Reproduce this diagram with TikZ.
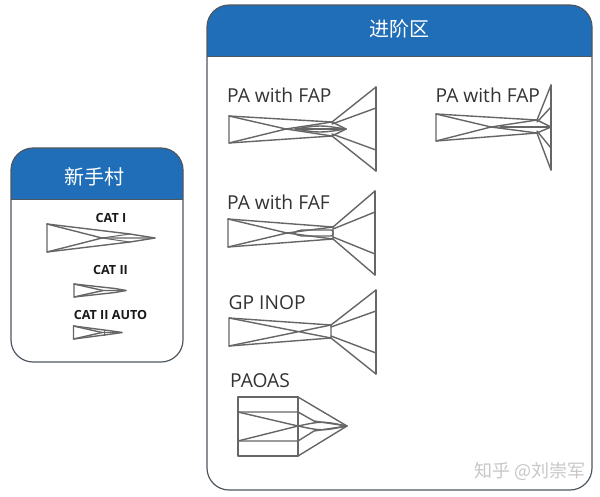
\documentclass[tikz,border=0pt]{standalone}
\usepackage{fontspec}
\setmainfont{Open Sans}
\newfontfamily\cjk{Noto Sans CJK SC}
\definecolor{hdr}{HTML}{1F6EB7}
\definecolor{edge}{HTML}{4F5760}
\definecolor{ln}{HTML}{666666}
\tikzset{
  panel/.style={draw=edge,line width=1.2pt},
  ils/.style={draw=ln,line width=1.4pt,line join=round,line cap=round},
  ilsthin/.style={draw=ln,line width=1pt},
  hdrtext/.style={text=white,font=\cjk\fontsize{20}{22}\selectfont,inner sep=0pt},
  lbl/.style={text=black!80,font=\fontsize{19.2}{21}\selectfont,inner sep=0pt,anchor=base west},
  cat/.style={text=black!90,font=\bfseries\fontsize{12.6}{14}\selectfont,inner sep=0pt,anchor=base}
}
\newcommand{\lens}[5]{% x1 xb xt y h
  \draw[ils] (#1,#4) .. controls (#2,#4-#5) and (#2,#4-#5) .. (#3,#4) .. controls (#2,#4+#5) and (#2,#4+#5) .. cycle;
}
\newcommand{\wing}[8]{% bx yu yl xr y1 y2 y3 y4
  \draw[ils] (#4,#5) -- (#4,#8);
  \draw[ils] (#1,#2) -- (#4,#5);
  \draw[ils] (#1,#2+2) -- (#4,#6);
  \draw[ils] (#1,#3-2) -- (#4,#7);
  \draw[ils] (#1,#3) -- (#4,#8);
}
\begin{document}
\begin{tikzpicture}[x=1pt,y=-1pt]
\useasboundingbox (0,0) rectangle (600,496);
\fill[white] (0,0) rectangle (600,496);
% left panel
\begin{scope}
\clip (0,140) rectangle (200,199);
\fill[hdr,rounded corners=22pt] (11,148) rectangle (183,362);
\end{scope}
\draw[panel,rounded corners=22pt] (11,148) rectangle (183,362);
\draw[edge,line width=0.6pt] (11,199) -- (183,199);
\node[hdrtext] (h1) at (94,176.5) {新手村};
% right panel
\begin{scope}
\clip (200,0) rectangle (600,56);
\fill[hdr,rounded corners=22pt] (207,5) rectangle (592,490);
\end{scope}
\draw[panel,rounded corners=22pt] (207,5) rectangle (592,490);
\draw[edge,line width=0.6pt] (207,56) -- (592,56);
\node[hdrtext] (h2) at (399,29) {进阶区};
% labels
\node[cat] (c1) at (111,222) {CAT I};
\node[cat] (c2) at (110.5,274) {CAT II};
\node[cat] (c3) at (110.5,319.5) {CAT II AUTO};
\node[lbl] (p1) at (227,102) {PA with FAP};
\node[lbl] (p2) at (435.5,102) {PA with FAP};
\node[lbl] (p3) at (227,209) {PA with FAF};
\node[lbl] (p4) at (228.5,309) {GP INOP};
\node[lbl] (p5) at (230,387) {PAOAS};
\node[text=black!22,font=\cjk\fontsize{18}{20}\selectfont,inner sep=0pt,anchor=base east] (wm) at (586,477) {知乎 @刘崇军};
% CAT I
\draw[ils] (47,224) -- (47,252) -- (102,238);
\draw[ils] (47,224) -- (102,238) -- (155,238);
\draw[ils] (47,224) -- (130,234) -- (155,238) -- (130,242) -- (47,252);
\draw[ilsthin] (102,238) -- (130,234);
\draw[ilsthin] (102,238) -- (130,242);
% CAT II
\draw[ils] (74,284) -- (74,297) -- (103,290.5) -- (126,290.5);
\draw[ils] (74,284) -- (103,290.5);
\draw[ils] (74,284) -- (115,288.5) -- (126,290.5) -- (115,292.5) -- (74,297);
% CAT II AUTO
\draw[ils] (73.5,326) -- (73.5,339) -- (102,332.5) -- (122,332.5);
\draw[ils] (73.5,326) -- (102,332.5);
\draw[ils] (73.5,326) -- (112,331) -- (122,332.5) -- (112,334) -- (73.5,339);
\draw[ilsthin] (104,329.5) -- (104,336);
% PA with FAP 1
\draw[ils] (229,116) -- (229,143) -- (286,129);
\draw[ils] (229,116) -- (286,129);
\draw[ils] (229,116) -- (332,122) -- (346,129) -- (332,136) -- (229,143);
\draw[ils] (286,129) -- (332,122);
\draw[ils] (286,129) -- (332,136);
\draw[ils] (295,129) -- (346,129);
\lens{295}{320}{346}{129}{4}
\wing{332}{122}{136}{376}{87}{108}{150}{171}
% PA with FAP 2
\draw[ils] (436,114) -- (436,141) -- (491,127);
\draw[ils] (436,114) -- (491,127);
\draw[ils] (436,114) -- (537,120) -- (551,127) -- (537,133) -- (436,141);
\draw[ils] (491,127) -- (537,120);
\draw[ils] (491,127) -- (537,133);
\draw[ils] (500,127) -- (551,127);
\wing{537}{120}{133}{551}{85}{107}{148}{170}
% PA with FAF
\draw[ils] (228,219) -- (228,247) -- (287,233) -- (293,233);
\draw[ils] (228,219) -- (287,233);
\draw[ils] (228,219) -- (333,227) -- (333,239) -- (228,247);
\draw[ils] (287,233) -- (333,227);
\draw[ils] (287,233) -- (333,239);
\draw[ils,rounded corners=2pt] (293,233) -- (300,230) -- (333,230) -- (333,236) -- (300,236) -- cycle;
\wing{333}{227}{239}{375}{191}{212}{254}{275}
% GP INOP
\draw[ils] (229,318) -- (229,346) -- (331,325) -- (331,338) -- (229,318);
\draw[ils] (229,318) -- (331,325);
\draw[ils] (229,346) -- (331,338);
\wing{331}{325}{338}{376}{290}{311}{353}{374}
% PAOAS
\draw[ils] (238,397) rectangle (298,456);
\draw[ils] (238,412) -- (298,412) -- (314,421) -- (347,426) -- (314,431) -- (298,441) -- (238,441);
\draw[ils] (238,412) -- (298,426) -- (238,441);
\draw[ils] (298,397) -- (347,426) -- (298,456);
\lens{298}{322}{347}{426}{5}
\end{tikzpicture}
\end{document}
